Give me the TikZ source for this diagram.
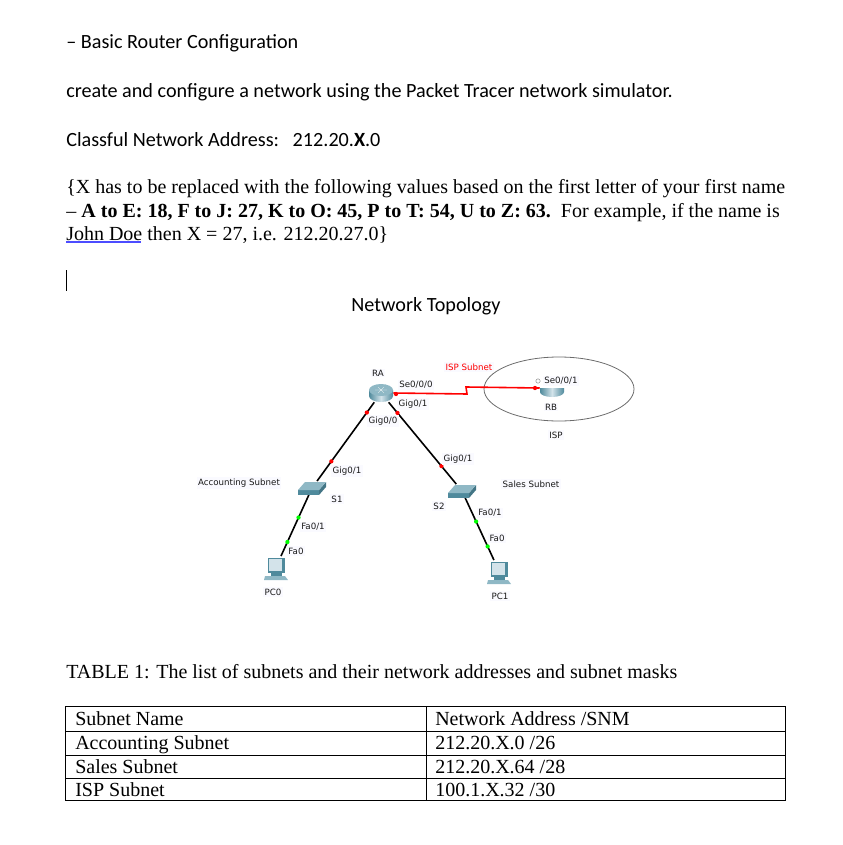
\documentclass[tikz,border=0pt]{standalone}
\usepackage{fontspec}
\setmainfont{Liberation Serif}
\newfontfamily\wordsans{Carlito}
\newfontfamily\ptlabel{DejaVu Sans}
\definecolor{tealdark}{HTML}{4F8A9C}
\definecolor{teallight}{HTML}{8FB8C5}
\definecolor{screenlight}{HTML}{D3E3EA}
\begin{document}
\begin{tikzpicture}[
    x=0.75pt, y=-0.75pt,
    sansline/.style={anchor=base west, inner sep=0pt, font=\wordsans\fontsize{15.13}{17}\selectfont},
    serifline/.style={anchor=base west, inner sep=0pt, font=\fontsize{15}{17}\selectfont},
    cell/.style={anchor=base west, inner sep=0pt, font=\fontsize{15}{17}\selectfont},
    port/.style={inner sep=1pt, fill=blue!2, font=\ptlabel\fontsize{6.5}{7}\selectfont, text=black!90},
    device/.style={inner sep=0pt, minimum width=18pt, minimum height=10pt},
    routernode/.style={inner sep=0pt, minimum width=18pt, minimum height=13.5pt},
    pcnode/.style={inner sep=0pt, minimum width=16pt, minimum height=16pt},
    link/.style={line width=1.2pt, black},
    seriallink/.style={line width=1.2pt, red},
    reddot/.style={circle, fill=red, inner sep=0pt, minimum size=3.2pt},
    greendot/.style={circle, fill=green, inner sep=0pt, minimum size=3.2pt},
    pics/routericon/.style={code={
        \path[left color=tealdark, right color=tealdark, middle color=screenlight] (-12,-3) -- (-12,3) arc[start angle=180, end angle=0, x radius=12, y radius=6] -- (12,-3) -- cycle;
        \path[fill=teallight] (0,-3) ellipse[x radius=12, y radius=6];
        \draw[white, very thin] (-6,-3) -- (6,-3) (-3,-6) -- (3,0) (3,-6) -- (-3,0);
    }},
    pics/switchicon/.style={code={
        \path[fill=tealdark] (-14,2) -- (7,2) -- (7,7) -- (-14,7) -- cycle;
        \path[fill=tealdark!85!black] (7,2) -- (14,-6) -- (14,-1) -- (7,7) -- cycle;
        \path[fill=teallight] (-14,2) -- (-7,-6) -- (14,-6) -- (7,2) -- cycle;
    }},
    pics/pcicon/.style={code={
        \path[fill=tealdark] (-8,-9) -- (9,-9) -- (9,6) -- (-8,6) -- cycle;
        \path[fill=screenlight] (-7,-8) rectangle (6,4);
        \path[fill=tealdark] (-5,6) rectangle (6,9);
        \path[fill=teallight] (-11,9) -- (9,9) -- (12,13) -- (-12,13) -- cycle;
    }}
]

% Assignment text
\node[sansline] (heading) at (66,48.5) {– Basic Router Configuration};
\node[sansline] (task) at (66,97.5) {create and configure a network using the Packet Tracer network simulator.};
\node[sansline] (classful) at (66,146.5) {Classful Network Address:\ \ \ 212.20.\textbf{X}.0};

\node[serifline] (rule a) at (66,193.5) {\{X has to be replaced with the following values based on the first letter of your first name};
\node[serifline] (rule b) at (66,217) {– \textbf{A to E: 18, F to J: 27, K to O: 45, P to T: 54, U to Z: 63.}\ \ For example, if the name is};
\node[serifline] (rule c) at (66,240) {John Doe then X = 27, i.e. 212.20.27.0\}};
\draw[blue!70, line width=.8pt] (66,242) -- (141,242);
\draw[black] (66,270) -- (66,291);

\node[sansline, anchor=base] (topotitle) at (426,311) {Network Topology};

% Devices
\node[routernode] (ra) at (381,393) {};
\node[device] (rb) at (552,388) {};
\node[device] (s1) at (312,488) {};
\node[device] (s2) at (462,491) {};
\node[pcnode] (pc0) at (276,567) {};
\node[pcnode] (pc1) at (499,571) {};

% ISP area
\draw[gray!85!black, line width=.6pt] (559,389) ellipse[x radius=75, y radius=32];

% Links
\draw[link] (ra) -- node[reddot, pos=.13] (ra p0) {} node[reddot, pos=.75] (s1 p0) {} (s1);
\draw[link] (ra) -- node[reddot, pos=.13] (ra p1) {} node[reddot, pos=.78] (s2 p0) {} (s2);
\draw[link] (s1) -- node[greendot, pos=.37] (s1 p1) {} node[greendot, pos=.77] (pc0 p) {} (pc0);
\draw[link] (s2) -- node[greendot, pos=.38] (s2 p1) {} node[greendot, pos=.78] (pc1 p) {} (pc1);

\coordinate (zig a) at (467,394);
\coordinate (zig b) at (466,387);
\draw[seriallink] (ra.east) -- (zig a) -- (zig b) -- (rb.west);
\node[reddot] (ra se) at (396,394) {};
\node[reddot] (rb se) at (535,388) {};

% Icons
\pic at (ra) {routericon};
\pic at (s1) {switchicon};
\pic at (s2) {switchicon};
\pic at (pc0) {pcicon};
\pic at (pc1) {pcicon};
\path[left color=tealdark, right color=tealdark, middle color=screenlight] (540,388) -- (564,388) -- (564,392) arc[start angle=0, end angle=180, x radius=12, y radius=5] -- cycle;
\draw[black!70, very thin] (538,381) circle[radius=2.2];

% Labels
\node[port] (ra label) at (378,373) {RA};
\node[port] (se0) at (416,385) {Se0/0/0};
\node[port] (ra gig1) at (413,404) {Gig0/1};
\node[port] (ra gig0) at (383,421) {Gig0/0};
\node[port, text=red] (isp subnet) at (469,367) {ISP Subnet};
\node[port] (se1) at (561,381) {Se0/0/1};
\node[port] (rb label) at (551,407) {RB};
\node[port] (isp label) at (556,435) {ISP};
\node[port] (s2 gig) at (458,459) {Gig0/1};
\node[port] (s1 gig) at (347,471) {Gig0/1};
\node[port] (acct subnet) at (239,483) {Accounting Subnet};
\node[port] (s1 label) at (337,499) {S1};
\node[port] (s2 label) at (439,506) {S2};
\node[port] (sales subnet) at (531,484) {Sales Subnet};
\node[port] (s1 fa) at (313,527) {Fa0/1};
\node[port] (pc0 fa) at (296,551) {Fa0};
\node[port] (s2 fa) at (490,513) {Fa0/1};
\node[port] (pc1 fa) at (497,538) {Fa0};
\node[port] (pc0 label) at (273,592) {PC0};
\node[port] (pc1 label) at (500,596) {PC1};

% Table
\node[serifline] (tabletitle) at (66,678) {TABLE 1: The list of subnets and their network addresses and subnet masks};

\node[cell] (name head) at (75,725) {Subnet Name};
\node[cell] (addr head) at (435,725) {Network Address /SNM};
\node[cell] (acct name) at (75,749) {Accounting Subnet};
\node[cell] (acct addr) at (435,749) {212.20.X.0 /26};
\node[cell] (sales name) at (75,773) {Sales Subnet};
\node[cell] (sales addr) at (435,773) {212.20.X.64 /28};
\node[cell] (isp name) at (75,796) {ISP Subnet};
\node[cell] (isp addr) at (435,796) {100.1.X.32 /30};

\draw (65,706) rectangle (785,800);
\draw (426,706) -- (426,800);
\draw (65,731) -- (785,731);
\draw (65,755) -- (785,755);
\draw (65,778) -- (785,778);

\useasboundingbox (0,0) rectangle (842,845);
\end{tikzpicture}
\end{document}
